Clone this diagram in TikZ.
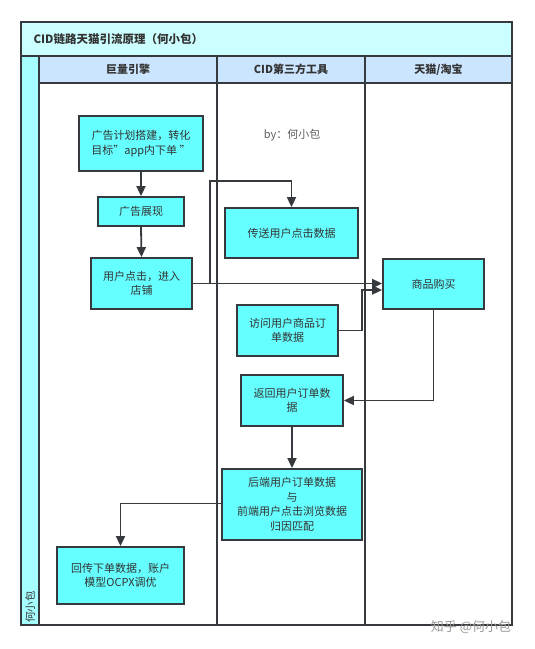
\documentclass[tikz,border=0pt]{standalone}
\usepackage{fontspec}
\setmainfont{Noto Sans CJK SC}
\usetikzlibrary{arrows.meta,calc}
\definecolor{edge}{HTML}{36393D}
\definecolor{txt}{HTML}{333333}
\definecolor{boxfill}{HTML}{66FFFF}
\definecolor{titlefill}{HTML}{CCFFFF}
\definecolor{headfill}{HTML}{CCE5FF}
\definecolor{stripfill}{HTML}{A6FFFF}
\begin{document}
\begin{tikzpicture}[x=1pt,y=-1pt,
  frame/.style={draw=edge,line width=1.8pt},
  proc/.style={draw=edge,line width=1.8pt,fill=boxfill,text=txt,align=center,
    inner sep=0pt,font=\fontsize{11}{14.5}\selectfont},
  arr/.style={draw=edge,line width=1.8pt,-{Triangle[length=10pt,width=9pt]}},
  head/.style={text=txt,font=\fontsize{11}{13}\selectfont\bfseries}]
\useasboundingbox (0,0) rectangle (535,649);
% bands
\fill[titlefill] (21,22) rectangle (512,56);
\fill[stripfill] (21,56) rectangle (39,625);
\fill[headfill] (39,56) rectangle (512,83);
\draw[frame] (21,56) -- (512,56);
\draw[frame] (39,83) -- (512,83);
\draw[frame] (39,56) -- (39,625);
\draw[frame] (217,56) -- (217,625);
\draw[frame] (365,56) -- (365,625);
\draw[frame] (21,22) rectangle (512,625);
% texts
\node[text=txt,anchor=west,font=\fontsize{11.5}{13}\selectfont\bfseries] (title) at (30,39) {CID链路天猫引流原理（何小包）};
\node[head] (h1) at (128,69.5) {巨量引擎};
\node[head] (h2) at (291,69.5) {CID第三方工具};
\node[head] (h3) at (438.5,69.5) {天猫/淘宝};
\node[text=txt,rotate=90,font=\fontsize{10.5}{12}\selectfont] (side) at (30,607) {何小包};
\node[text=txt!80,font=\fontsize{11}{13}\selectfont] (by) at (292,135) {by：何小包};
% process boxes
\node[proc,minimum width=124pt,minimum height=55pt] (plan) at (141,143.5) {广告计划搭建，转化\\目标”app内下单 ”};
\node[proc,minimum width=86pt,minimum height=29pt] (show) at (141,211.5) {广告展现};
\node[proc,minimum width=101pt,minimum height=51pt] (click) at (141.5,283.5) {用户点击，进入\\店铺};
\node[proc,minimum width=133pt,minimum height=50pt] (send) at (291.5,233) {传送用户点击数据};
\node[proc,minimum width=101pt,minimum height=50pt] (buy) at (433.5,284) {商品购买};
\node[proc,minimum width=101pt,minimum height=51pt] (visit) at (287.5,330.5) {访问用户商品订\\单数据};
\node[proc,minimum width=102pt,minimum height=51pt] (ret) at (292,400.5) {返回用户订单数\\据};
\node[proc,minimum width=140pt,minimum height=71pt] (match) at (292,504.5) {后端用户订单数据\\与\\前端用户点击浏览数据\\归因匹配};
\node[proc,minimum width=127pt,minimum height=57pt] (back) at (120.5,575.5) {回传下单数据，账户\\模型OCPX调优};
% connectors
\draw[arr] (plan.south) -- (show.north);
\draw[arr] (show.south) -- (click.north);
\draw[arr] (click.east) -- (click.east -| buy.west);
\draw[arr] (click.east) -- ++(17,0) |- ([yshift=26pt]send.north) -- (send.north);
\draw[arr] (visit.east) -- ++(23,0) |- ([yshift=-6pt]buy.west);
\draw[arr] (buy.south) |- (ret.east);
\draw[arr] (ret.south) -- (match.north);
\draw[arr] ([yshift=1pt]match.west) -| (back.north);
% watermark
\node[text=black!40,font=\fontsize{13}{14}\selectfont] (wm) at (471,627) {知乎 @何小包};
\end{tikzpicture}
\end{document}
